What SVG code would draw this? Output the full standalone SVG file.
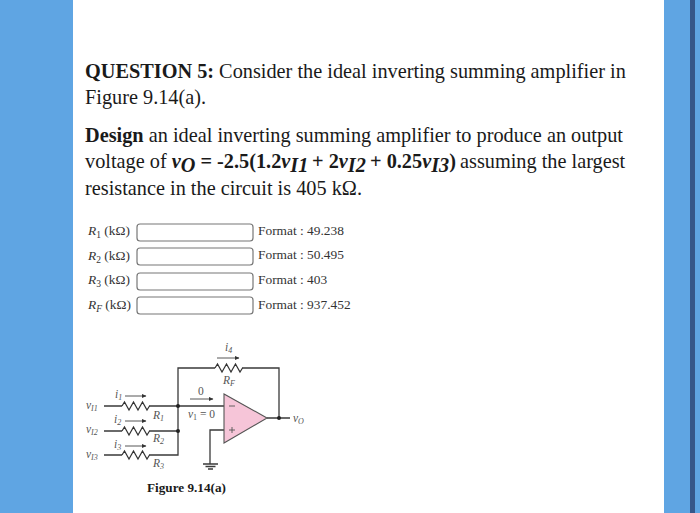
<svg xmlns="http://www.w3.org/2000/svg" width="700" height="513" viewBox="0 0 700 513">
<defs>
<style>
text{font-family:"Liberation Serif",serif;fill:#1a1a1a}
.q{font-size:20.3px}
.b{font-weight:bold}
.bi{font-weight:bold;font-style:italic}
.f{font-size:13.4px;fill:#333}
.l{font-size:13.4px;fill:#333}
.i{font-style:italic}
.c{font-size:11.5px;fill:#555}
.box{fill:#fff;stroke:#777;stroke-width:1.2}
.w{fill:none;stroke:#3a3a3a;stroke-width:1.3}
.r{fill:none;stroke:#333;stroke-width:1.2;stroke-linejoin:miter}
.d{fill:#222}
.ar{fill:none;stroke:#444;stroke-width:.9}
</style>
<path id="res" class="r" d="M0 0l2.500-4 4.500 8 4.500-8 4.500 8 4.500-8 4.500 8 2.500-4"/>
<marker id="ah" markerWidth="6" markerHeight="6" refX="5" refY="2.500" orient="auto"><path d="M0 0L5.500 2.500L0 5z" fill="#333"/></marker>
</defs>
<rect width="700" height="513" fill="#fff"/>
<rect x="0" y="0" width="73" height="513" fill="#5fa5e3"/>
<rect x="664" y="0" width="36" height="513" fill="#5fa5e3"/>
<rect x="690" y="0" width="5" height="513" fill="#35578a"/>

<text class="q" x="85" y="78"><tspan class="b">QUESTION 5:</tspan> Consider the ideal inverting summing amplifier in</text>
<text class="q" x="85" y="104">Figure 9.14(a).</text>
<text class="q" x="85" y="142"><tspan class="b">Design</tspan> an ideal inverting summing amplifier to produce an output</text>
<text class="q" x="85" y="168">voltage of <tspan class="bi">v</tspan><tspan class="bi" dy="4">O</tspan><tspan class="b" dy="-4"> = -2.5(1.2</tspan><tspan class="bi">v</tspan><tspan class="bi" dy="4">I1</tspan><tspan class="b" dy="-4" x="312">+ 2</tspan><tspan class="bi">v</tspan><tspan class="bi" dy="4">I2</tspan><tspan class="b" dy="-4" x="370">+ 0.25</tspan><tspan class="bi">v</tspan><tspan class="bi" dy="4">I3</tspan><tspan class="b" dy="-4">)</tspan><tspan x="460">assuming the largest</tspan></text>
<text class="q" x="85" y="195">resistance in the circuit is 405 kΩ.</text>

<g id="row1"><text class="l" x="88" y="235"><tspan class="i">R</tspan><tspan font-size="9.500" dy="3">1</tspan><tspan dy="-3"> (kΩ)</tspan></text><rect class="box" x="137" y="224" width="116" height="17" rx="3"/><text class="f" x="258" y="234.500">Format : 49.238</text></g>
<g id="row2"><text class="l" x="88" y="260"><tspan class="i">R</tspan><tspan font-size="9.500" dy="3">2</tspan><tspan dy="-3"> (kΩ)</tspan></text><rect class="box" x="137" y="248" width="116" height="17" rx="3"/><text class="f" x="258" y="259">Format : 50.495</text></g>
<g id="row3"><text class="l" x="88" y="284"><tspan class="i">R</tspan><tspan font-size="9.500" dy="3">3</tspan><tspan dy="-3"> (kΩ)</tspan></text><rect class="box" x="137" y="273" width="116" height="17" rx="3"/><text class="f" x="258" y="284">Format : 403</text></g>
<g id="row4"><text class="l" x="88" y="309"><tspan class="i">R</tspan><tspan font-size="9.500" class="i" dy="3">F</tspan><tspan dy="-3"> (kΩ)</tspan></text><rect class="box" x="137" y="297" width="116" height="17" rx="3"/><text class="f" x="258" y="308.500">Format : 937.452</text></g>

<g id="connectors">
<path class="w" d="M104 406H122M149 406H224M104 431H122M149 431H178M104 455H122M149 455H178V368H215M242 368H279V418M267 418H290M224 430H210V464"/>
<path class="w" d="M203 464H218M205.500 466.500H215.500M208 469H213"/>
<path class="ar" marker-end="url(#ah)" d="M125 396H146"/>
<path class="ar" marker-end="url(#ah)" d="M125 421H146"/>
<path class="ar" marker-end="url(#ah)" d="M125 446H146"/>
<path class="ar" marker-end="url(#ah)" d="M217 358H239"/>
<path class="ar" marker-end="url(#ah)" d="M190 399H213"/>
</g>
<g id="R1"><use href="#res" x="122" y="406"/><text class="c i" x="153" y="419">R<tspan font-size="8" dy="2">1</tspan></text></g>
<g id="R2"><use href="#res" x="122" y="431"/><text class="c i" x="153" y="442">R<tspan font-size="8" dy="2">2</tspan></text></g>
<g id="R3"><use href="#res" x="122" y="455"/><text class="c i" x="153" y="467">R<tspan font-size="8" dy="2">3</tspan></text></g>
<g id="RF"><use href="#res" x="215" y="368"/><text class="c i" x="223" y="384">R<tspan font-size="8" dy="2">F</tspan></text></g>
<g id="opamp">
<path d="M224 394V443L267 418Z" fill="#f6c5d8" stroke="#555" stroke-width="1.100"/>
<path d="M229 406H235M229 430H235M232 427V433" stroke="#555" stroke-width=".9" fill="none"/>
</g>
<g id="junctions">
<circle class="d" cx="178" cy="406" r="2"/><circle class="d" cx="178" cy="431" r="2"/><circle class="d" cx="279" cy="418" r="2"/>
</g>
<g id="labels">
<text class="c i" x="86" y="409">v<tspan font-size="8" dy="2">I1</tspan></text>
<text class="c i" x="86" y="433">v<tspan font-size="8" dy="2">I2</tspan></text>
<text class="c i" x="86" y="458">v<tspan font-size="8" dy="2">I3</tspan></text>
<text class="c i" x="293" y="422">v<tspan font-size="8" dy="2">O</tspan></text>
<text class="c i" x="115" y="398">i<tspan font-size="8" dy="2">1</tspan></text>
<text class="c i" x="114" y="423">i<tspan font-size="8" dy="2">2</tspan></text>
<text class="c i" x="114" y="448">i<tspan font-size="8" dy="2">3</tspan></text>
<text class="c i" x="225" y="351">i<tspan font-size="8" dy="2">4</tspan></text>
<text class="c" x="198" y="395">0</text>
<text class="c" x="188" y="418"><tspan class="i">v</tspan><tspan font-size="8" dy="2">1</tspan><tspan dy="-2"> = 0</tspan></text>
<text x="147" y="492" font-size="13.200" font-weight="bold" fill="#333">Figure 9.14(a)</text>
</g>
</svg>
